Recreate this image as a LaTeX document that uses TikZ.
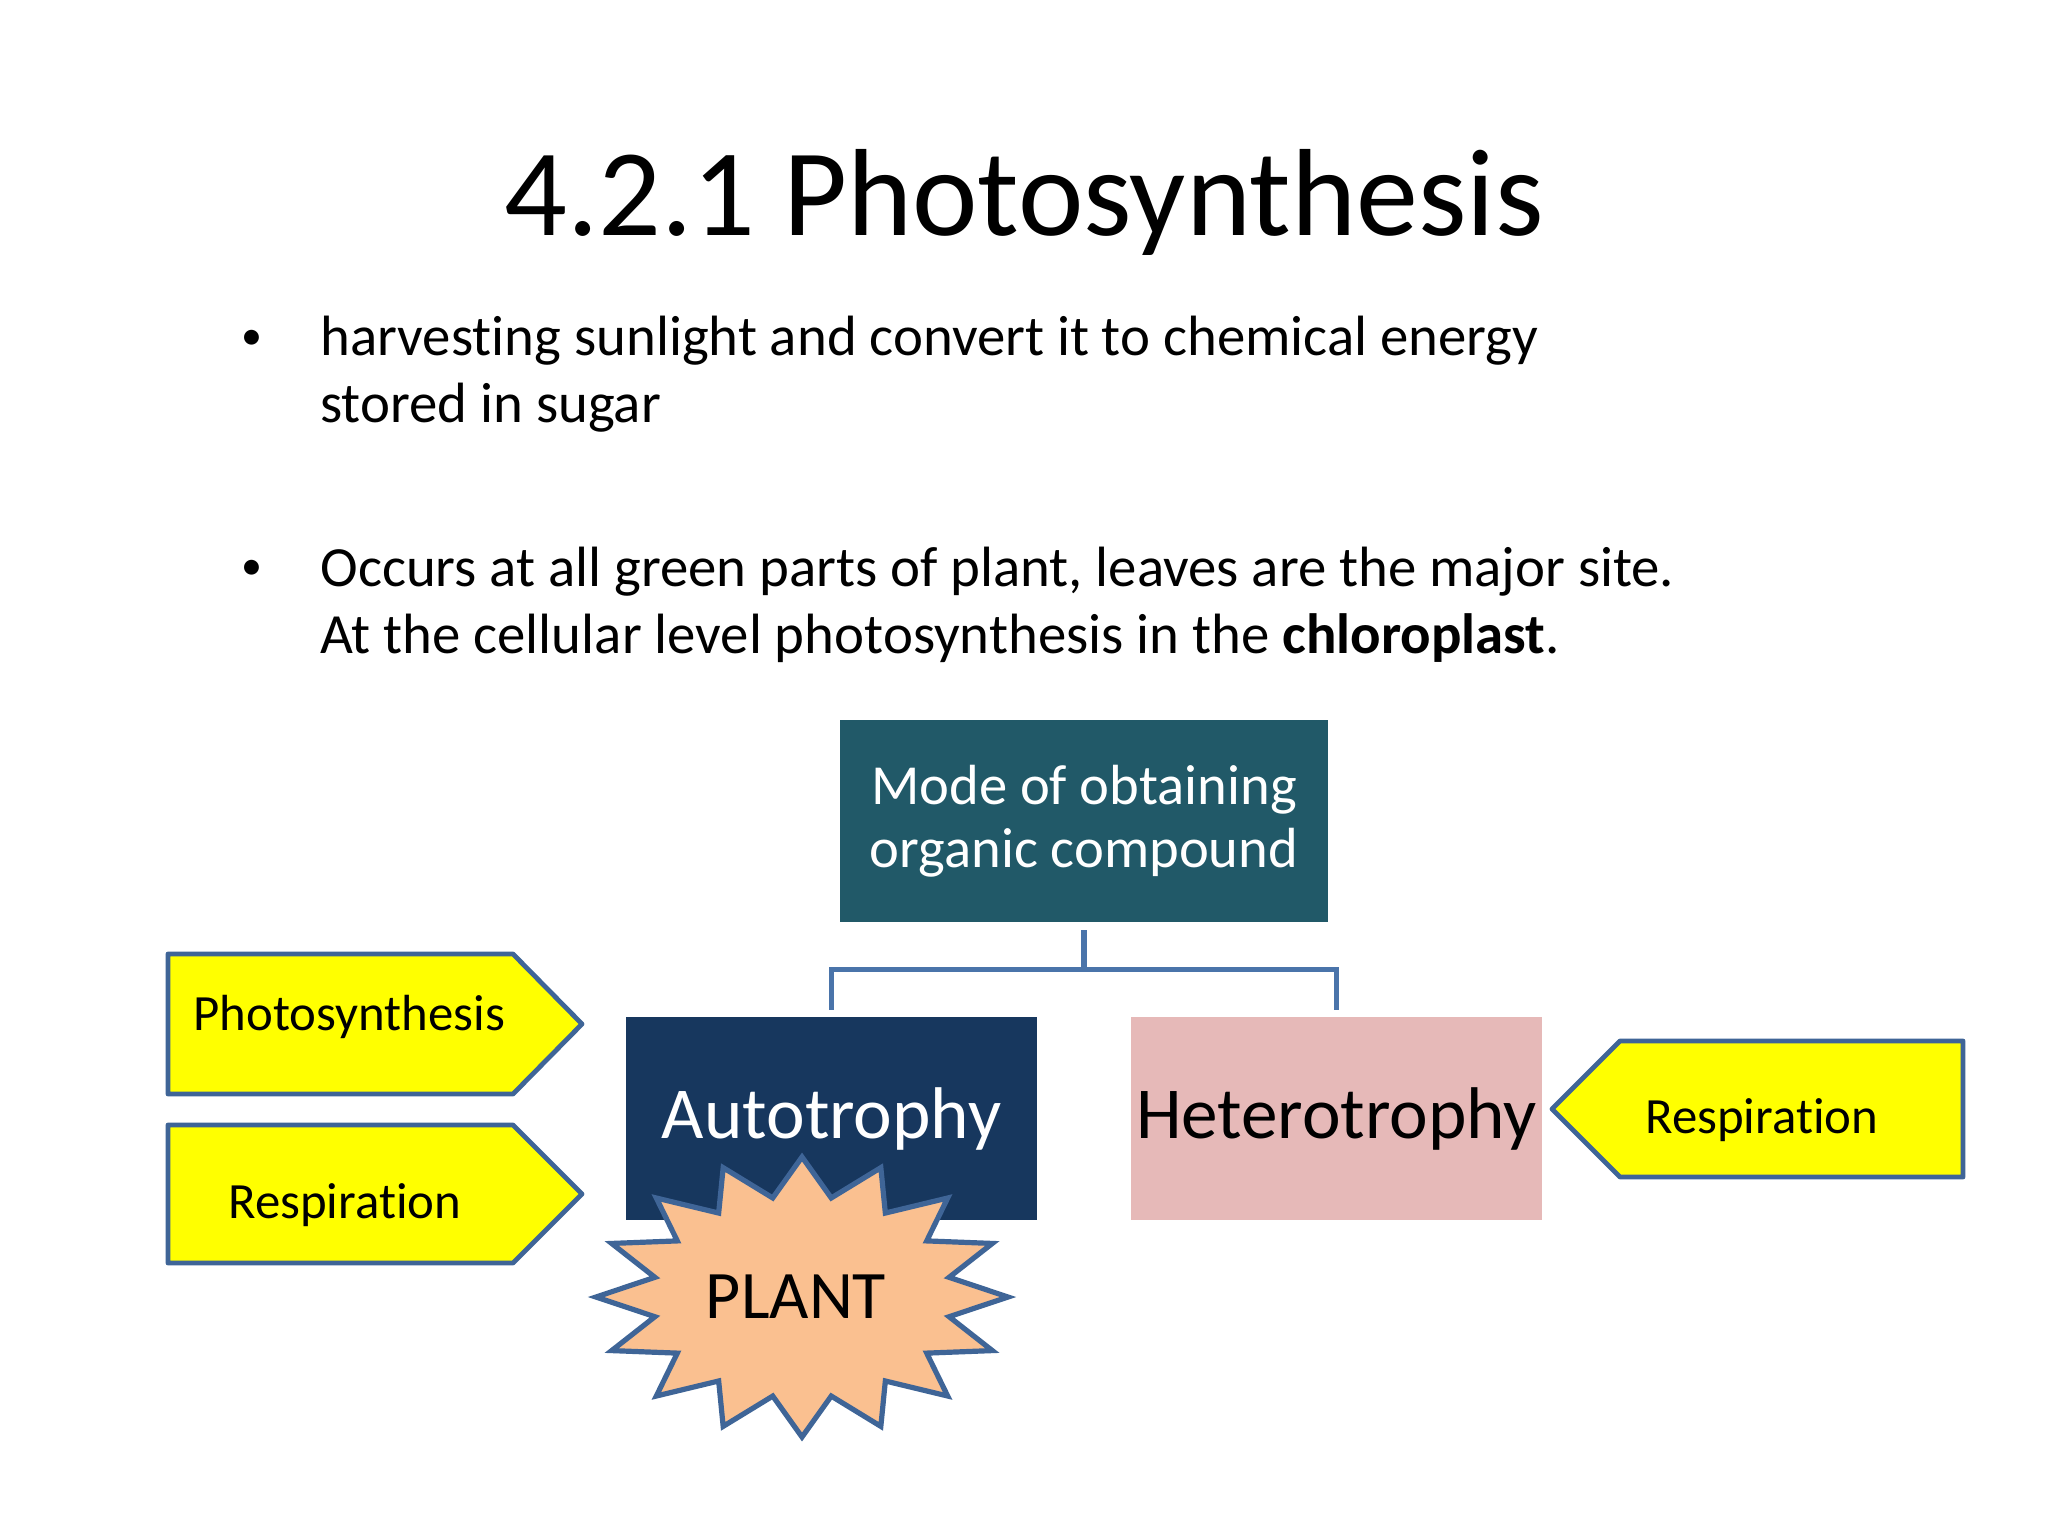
\documentclass[tikz,border=0pt]{standalone}
\usepackage{fontspec}
\setmainfont{Carlito}[Ligatures=NoCommon]
\definecolor{modecol}{HTML}{215968}
\definecolor{autocol}{HTML}{17375E}
\definecolor{heterocol}{HTML}{E6B9B8}
\definecolor{starfill}{HTML}{FAC090}
\definecolor{edgecol}{HTML}{3F6597}
\definecolor{conncol}{HTML}{4A74AA}
\definecolor{signyellow}{HTML}{FFFF00}
\tikzset{
  bodytext/.style={anchor=base west, align=left, inner sep=0pt, font=\fontsize{28.4}{33.5}\selectfont},
  bulletmark/.style={anchor=base, inner sep=0pt, font=\fontsize{21}{25}\selectfont},
  boxsty/.style={draw=none, inner sep=0pt, align=center},
  conn/.style={draw=conncol, line width=2.6pt},
  signsty/.style={fill=signyellow, draw=edgecol, line width=2.4pt, line join=round},
  signtext/.style={anchor=base west, inner sep=0pt, font=\fontsize{25.4}{30}\selectfont},
  starsty/.style={fill=starfill, draw=edgecol, line width=2.6pt, line join=miter},
}
\begin{document}
\begin{tikzpicture}[x=0.5pt,y=-0.5pt]
\useasboundingbox[fill=white] (0,0) rectangle (2048,1536);
% title
\node[anchor=base, inner sep=0pt, font=\fontsize{62}{74}\selectfont] (title) at (1024,235) {4.2.1 Photosynthesis};
% bullets
\node[bulletmark] (b1) at (252,349) {•};
\node[bodytext] (t1) at (320,422) {harvesting sunlight and convert it to chemical energy\\stored in sugar};
\node[bulletmark] (b2) at (252,579) {•};
\node[bodytext] (t2) at (320,653) {Occurs at all green parts of plant, leaves are the major site.\\At the cellular level photosynthesis in the \textbf{chloroplast}.};
% boxes
\node[boxsty, fill=modecol, text=white, minimum width=244pt, minimum height=101pt,
      font=\fontsize{28.3}{31.4}\selectfont] (mode) at (1084,821) {Mode of obtaining\\organic compound};
\node[boxsty, fill=autocol, text=white, minimum width=205.5pt, minimum height=101.5pt,
      font=\fontsize{36.6}{40}\selectfont] (auto) at (831.5,1118.5) {Autotrophy};
\node[boxsty, fill=heterocol, text=black, minimum width=205.5pt, minimum height=101.5pt,
      font=\fontsize{36.6}{40}\selectfont] (hetero) at (1336.5,1118.5) {Heterotrophy};
% connectors
\draw[conn] ([yshift=-4pt]mode.south) -- ([yshift=-23.5pt]mode.south) coordinate (mid)
  -| ([yshift=3.5pt]auto.north);
\draw[conn] (mid) -| ([yshift=3.5pt]hetero.north);
% starburst
\draw[starsty] (1008,1297) \foreach \k in {1,...,31} {
  -- ({802+(isodd(\k) ? 150 : 206)*cos(\k*11.25)}, {1297+(isodd(\k) ? 101 : 140)*sin(\k*11.25)}) } -- cycle;
\node[inner sep=0pt, font=\fontsize{34}{40}\selectfont] (plant) at (796,1297) {PLANT};
% signs
\draw[signsty] (168,954) -- (513,954) -- (582,1024) -- (513,1094) -- (168,1094) -- cycle;
\node[signtext] (photo) at (193,1030) {Photosynthesis};
\draw[signsty] (168,1125) -- (513,1125) -- (582,1194) -- (513,1263) -- (168,1263) -- cycle;
\node[signtext] (resp1) at (228,1218) {Respiration};
\draw[signsty] (1963,1041) -- (1620,1041) -- (1552,1109) -- (1620,1177) -- (1963,1177) -- cycle;
\node[signtext] (resp2) at (1645,1133) {Respiration};
\end{tikzpicture}
\end{document}
